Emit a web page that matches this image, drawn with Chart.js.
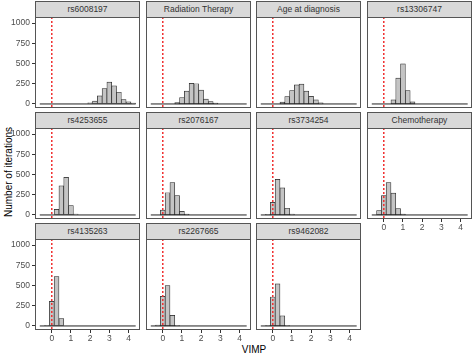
<!DOCTYPE html>
<html>
<head>
<meta charset="utf-8">
<script src="https://cdn.jsdelivr.net/npm/chart.js@4.4.1/dist/chart.umd.min.js"></script>
<style>
  body { margin: 0; background: #fff; font-family: "Liberation Sans", Arial, sans-serif; }
  #fig { position: relative; width: 474px; height: 355px; overflow: hidden; }
  .strip { position: absolute; box-sizing: border-box; border: 1px solid #555; background: #d9d9d9;
           color: #333; font-size: 8.5px; font-weight: normal; text-align: center; white-space: nowrap; }
  canvas { position: absolute; }
  .ytitle { position: absolute; left: 8px; top: 172px; font-size: 10px; color: #000;
            transform: translate(-50%, -50%) rotate(-90deg); white-space: nowrap; }
  .xtitle { position: absolute; left: 254px; top: 349px; font-size: 10px; color: #000;
            transform: translate(-50%, -50%); }
</style>
</head>
<body>
<div id="fig">
  <div class="ytitle">Number of iterations</div>
  <div class="xtitle">VIMP</div>
</div>
<script>
// histogram bins (centres), shared by every facet
const binCenters = [-0.5, -0.25, 0, 0.25, 0.5, 0.75, 1, 1.25, 1.5, 1.75,
                    2, 2.25, 2.5, 2.75, 3, 3.25, 3.5, 3.75, 4, 4.25];
const binWidth = 0.25;
const xTicks = [0, 1, 2, 3, 4];
const yTicks = [0, 250, 500, 750, 1000];
const vimpCutoff = 0;

const panelNames = ["rs6008197", "Radiation Therapy", "Age at diagnosis", "rs13306747",
                    "rs4253655", "rs2076167", "rs3734254", "Chemotherapy",
                    "rs4135263", "rs2267665", "rs9462082"];

// counts per bin, one array per facet (same order as panelNames)
const rs6008197  = [0, 0, 0, 0, 0, 0, 0, 0, 0, 0, 15, 35, 100, 190, 270, 225, 145, 55, 25, 12];
const radiation  = [0, 0, 0, 0, 0, 18, 80, 160, 255, 250, 170, 60, 30, 12, 0, 0, 0, 0, 0, 0];
const ageDiag    = [0, 0, 0, 0, 22, 90, 165, 235, 245, 160, 95, 50, 15, 0, 0, 0, 0, 0, 0, 0];
const rs13306747 = [0, 0, 0, 0, 50, 320, 495, 165, 25, 0, 0, 0, 0, 0, 0, 0, 0, 0, 0, 0];
const rs4253655  = [0, 0, 0, 70, 360, 465, 115, 10, 0, 0, 0, 0, 0, 0, 0, 0, 0, 0, 0, 0];
const rs2076167  = [0, 0, 60, 275, 400, 240, 45, 12, 0, 0, 0, 0, 0, 0, 0, 0, 0, 0, 0, 0];
const rs3734254  = [0, 8, 155, 440, 335, 83, 10, 0, 0, 0, 0, 0, 0, 0, 0, 0, 0, 0, 0, 0];
const chemo      = [0, 54, 240, 400, 269, 79, 12, 0, 0, 0, 0, 0, 0, 0, 0, 0, 0, 0, 0, 0];
const rs4135263  = [0, 5, 305, 610, 90, 0, 0, 0, 0, 0, 0, 0, 0, 0, 0, 0, 0, 0, 0, 0];
const rs2267665  = [0, 10, 365, 500, 130, 6, 0, 0, 0, 0, 0, 0, 0, 0, 0, 0, 0, 0, 0, 0];
const rs9462082  = [0, 6, 358, 520, 126, 5, 0, 0, 0, 0, 0, 0, 0, 0, 0, 0, 0, 0, 0, 0];

const panelCounts = [rs6008197, radiation, ageDiag, rs13306747, rs4253655, rs2076167,
                     rs3734254, chemo, rs4135263, rs2267665, rs9462082];

// facet grid geometry
const colLeft = [35, 146, 256, 367];
const plotTop = [17, 128, 239];
const plotW = 105, plotH = 91, stripH = 16, yAxisW = 35, xAxisH = 20;

Chart.defaults.font.family = '"Liberation Sans", Arial, sans-serif';
Chart.defaults.font.size = 8.5;
Chart.defaults.color = "#4d4d4d";

const panelFrame = {
  id: "panelFrame",
  afterDatasetsDraw(chart) {
    const { ctx, chartArea: a } = chart;
    const px = chart.scales.x.getPixelForValue(vimpCutoff);
    ctx.save();
    ctx.strokeStyle = "#f03030";
    ctx.lineWidth = 1.5;
    ctx.setLineDash([2, 2]);
    ctx.beginPath();
    ctx.moveTo(px, a.top);
    ctx.lineTo(px, a.bottom);
    ctx.stroke();
    ctx.setLineDash([]);
    ctx.strokeStyle = "#555";
    ctx.lineWidth = 1;
    ctx.strokeRect(a.left + 0.5, a.top + 0.5, a.right - a.left - 1, a.bottom - a.top - 1);
    ctx.restore();
  },
};

const fig = document.getElementById("fig");

panelNames.forEach((name, i) => {
  const row = Math.floor(i / 4);
  const col = i % 4;
  const showY = col === 0;
  const showX = row === 2 || (row === 1 && col === 3);

  const strip = document.createElement("div");
  strip.className = "strip";
  strip.textContent = name;
  strip.style.left = colLeft[col] + "px";
  strip.style.top = (plotTop[row] - stripH) + "px";
  strip.style.width = plotW + "px";
  strip.style.height = (stripH + 1) + "px";
  strip.style.lineHeight = (stripH - 1) + "px";
  fig.appendChild(strip);

  const canvas = document.createElement("canvas");
  const w = plotW + (showY ? yAxisW : 0);
  const h = plotH + (showX ? xAxisH : 0);
  canvas.width = w;
  canvas.height = h;
  canvas.style.width = w + "px";
  canvas.style.height = h + "px";
  canvas.style.left = (showY ? colLeft[col] - yAxisW : colLeft[col]) + "px";
  canvas.style.top = plotTop[row] + "px";
  fig.appendChild(canvas);

  const counts = panelCounts[i];
  const bars = binCenters.map((c, k) => ({ x: c, y: counts[k] }));
  const edgeLo = binCenters[0] - binWidth / 2;
  const edgeHi = binCenters[binCenters.length - 1] + binWidth / 2;

  new Chart(canvas.getContext("2d"), {
    type: "bar",
    data: {
      datasets: [
        {
          type: "line",
          data: [{ x: edgeLo, y: 0 }, { x: edgeHi, y: 0 }],
          borderColor: "#222",
          borderWidth: 1,
          pointRadius: 0,
        },
        {
          data: bars,
          backgroundColor: "#c4c4c4",
          borderColor: "#222",
          borderWidth: 0.7,
          borderSkipped: false,
          barPercentage: 1,
          categoryPercentage: 1,
        },
      ],
    },
    options: {
      responsive: false,
      animation: false,
      devicePixelRatio: 1,
      layout: { padding: 0 },
      plugins: { legend: { display: false }, tooltip: { enabled: false } },
      scales: {
        x: {
          type: "linear",
          display: showX,
          offset: false,
          min: -0.875,
          max: 4.6,
          afterBuildTicks: (s) => { s.ticks = xTicks.map((v) => ({ value: v })); },
          afterFit: (s) => {
            s.height = showX ? xAxisH : 0;
            s.paddingLeft = 0;
            s.paddingRight = 0;
          },
          grid: { drawOnChartArea: false, drawTicks: true, tickLength: 3, color: "#333", offset: false },
          border: { display: false },
          ticks: { padding: 1, color: "#4d4d4d", callback: (v) => String(v), maxRotation: 0 },
        },
        y: {
          display: showY,
          min: -50,
          max: 1075,
          afterBuildTicks: (s) => { s.ticks = yTicks.map((v) => ({ value: v })); },
          afterFit: (s) => {
            s.width = showY ? yAxisW : 0;
            s.paddingTop = 0;
            s.paddingBottom = 0;
          },
          grid: { drawOnChartArea: false, drawTicks: true, tickLength: 3, color: "#333" },
          border: { display: false },
          ticks: { padding: 2, color: "#4d4d4d", callback: (v) => String(v) },
        },
      },
    },
    plugins: [panelFrame],
  });
});
</script>
</body>
</html>
